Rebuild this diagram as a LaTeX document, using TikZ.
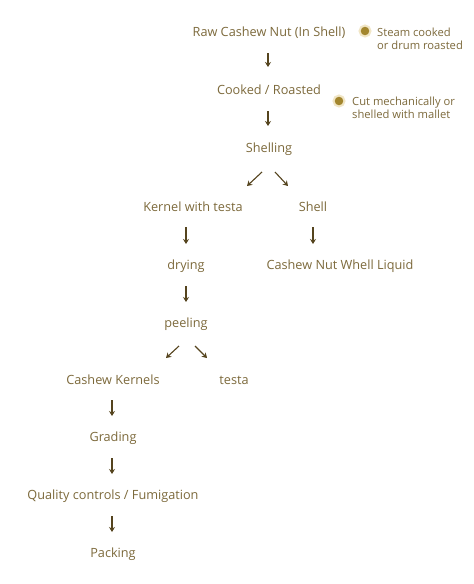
\documentclass[tikz,border=0pt]{standalone}
\usepackage{fontspec}
\setmainfont{Open Sans}
\usetikzlibrary{arrows.meta,calc}
\definecolor{txt}{HTML}{7D6A3C}
\definecolor{arrc}{HTML}{55441E}
\definecolor{dotc}{HTML}{A3862E}
\definecolor{halo}{HTML}{F1E6C6}
\tikzset{
  lbl/.style={font=\fontsize{12.7}{14}\selectfont, text=txt, inner sep=0pt},
  note/.style={font=\fontsize{11.2}{12.8}\selectfont, text=txt, inner sep=0pt, anchor=west, align=left},
  arr/.style={draw=arrc, line width=1.1pt, -{Stealth[length=5pt,width=6pt]}},
  dot/.style={circle, fill=dotc, draw=halo, line width=2pt, minimum size=11pt, inner sep=0pt}
}
\begin{document}
\begin{tikzpicture}[x=1pt,y=-1pt]
\useasboundingbox[fill=white] (0,0) rectangle (474,584);
\node[lbl] (raw) at (269,33) {Raw Cashew Nut (In Shell)};
\node[dot] (d1) at (365,31) {};
\node[note] (n1) at (377,38.5) {Steam cooked\\or drum roasted};
\node[lbl] (cooked) at (269,90) {Cooked / Roasted};
\node[dot] (d2) at (339,101) {};
\node[note] (n2) at (352,107.5) {Cut mechanically or\\shelled with mallet};
\node[lbl] (shelling) at (269,149) {Shelling};
\node[lbl] (kernel) at (193,207) {Kernel with testa};
\node[lbl] (shell) at (313,207) {Shell};
\node[lbl] (drying) at (186,266) {drying};
\node[lbl] (cnsl) at (340,266) {Cashew Nut Whell Liquid};
\node[lbl] (peeling) at (186,324) {peeling};
\node[lbl] (ck) at (113,380) {Cashew Kernels};
\node[lbl] (testa) at (234,380) {testa};
\node[lbl] (grading) at (113,438) {Grading};
\node[lbl] (qc) at (113,496) {Quality controls / Fumigation};
\node[lbl] (packing) at (113,554) {Packing};

\draw[arr, shorten <=20pt, shorten >=23pt] (raw.center -| 268,0) -- (cooked.center -| 268,0);
\draw[arr, shorten <=21pt, shorten >=23pt] (cooked.center -| 268,0) -- (shelling.center -| 268,0);
\draw[arr] ($(shelling.center)+(-7,23)$) -- ($(shelling.center)+(-22,37)$);
\draw[arr] ($(shelling.center)+(6,23)$) -- ($(shelling.center)+(19,37)$);
\draw[arr, shorten <=20pt, shorten >=22pt] (drying.center |- kernel.center) -- (drying.center);
\draw[arr, shorten <=20pt, shorten >=22pt] (shell.center) -- (shell.center |- cnsl.center);
\draw[arr, shorten <=20pt, shorten >=22pt] (drying.center) -- (peeling.center);
\draw[arr] ($(peeling.center)+(-7,22)$) -- ($(peeling.center)+(-20,34)$);
\draw[arr] ($(peeling.center)+(9,22)$) -- ($(peeling.center)+(21,34)$);
\draw[arr, shorten <=20pt, shorten >=22pt] (ck.center -| 112,0) -- (grading.center -| 112,0);
\draw[arr, shorten <=20pt, shorten >=22pt] (grading.center -| 112,0) -- (qc.center -| 112,0);
\draw[arr, shorten <=20pt, shorten >=22pt] (qc.center -| 112,0) -- (packing.center -| 112,0);
\end{tikzpicture}
\end{document}
